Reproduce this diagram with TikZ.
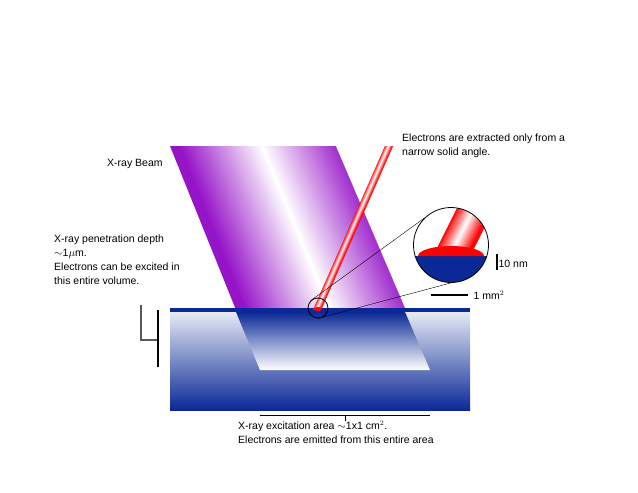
\documentclass[tikz,border=0pt]{standalone}
\usepackage{fontspec}
\setmainfont{Liberation Sans}
\begin{document}
\begin{tikzpicture}[x=1pt,y=-1pt,
  lbl/.style={font=\fontsize{10.5}{14}\selectfont,align=left,inner sep=0pt},
  bar/.style={line width=1.2pt}]
\useasboundingbox (0,0) rectangle (638,493);
\definecolor{vio}{RGB}{150,20,200}
\definecolor{nav}{RGB}{10,40,150}
% purple beam: strips (top x0,w0 at y0; bottom x1,w1 at y1)
\foreach \i in {0,...,59}{
  \pgfmathsetmacro{\ta}{\i/60}\pgfmathsetmacro{\tb}{(\i+1.3)/60}
  \pgfmathsetmacro{\p}{min(100,100*abs(\ta-0.55)/0.5)}
  \fill[vio!\p!white] (170+165*\ta,146) -- (170+165*\tb,146) -- (236+169*\tb,310) -- (236+169*\ta,310) -- cycle;
}
% substrate
\shade[top color=white!90!nav,bottom color=nav] (170,312) rectangle (470,410);
\shade[top color=nav,bottom color=white] (236,312) -- (405,312) -- (430,370) -- (260,370) -- cycle;
\fill[nav] (170,308) rectangle (470,312);
% red rod
\foreach \i in {0,...,19}{
  \pgfmathsetmacro{\ta}{\i/20}\pgfmathsetmacro{\tb}{(\i+1.3)/20}
  \pgfmathsetmacro{\p}{min(100,100*abs(\ta-0.45)/0.45)}
  \fill[red!\p!white] (385+8*\ta,146) -- (385+8*\tb,146) -- (313+8*\tb,310) -- (313+8*\ta,310) -- cycle;
}
\fill[red] (318,309) ellipse (4 and 2);
% magnifier
\node[circle,draw,thick,minimum size=20pt,inner sep=0pt] (sc) at (318,308) {};
\coordinate (c) at (451,245);
\begin{scope}
\clip (c) circle (37.5);
\fill[white] (c) circle (37.5);
\foreach \i in {0,...,39}{
  \pgfmathsetmacro{\ta}{\i/40}\pgfmathsetmacro{\tb}{(\i+1.3)/40}
  \pgfmathsetmacro{\p}{min(100,100*abs(\ta-0.45)/0.45)}
  \fill[red!\p!white] (466+37*\ta,190) -- (466+37*\tb,190) -- (433+37*\tb,256) -- (433+37*\ta,256) -- cycle;
}
\fill[nav] (405,256) rectangle (500,300);
\fill[red] (418,256) -- (484,256) arc (0:-180:33 and 10) -- cycle;
\end{scope}
\node[circle,draw,thick,minimum size=75pt,inner sep=0pt] (bc) at (c) {};
\draw (sc.north west) -- (bc.north west);
\draw (sc.south) -- (bc.south);
% scale bars
\draw[bar] (497,254) -- (497,270) node[lbl,anchor=west,pos=0.6,xshift=1pt] (t10) {10 nm};
\draw[bar] (431,295) -- (468,295) node[lbl,anchor=west,xshift=5pt] (tmm) {1 mm$^2$};
% left bracket
\draw[bar,gray!70!black] (141,305) -- (141,340) -- (158,340);
\draw[bar] (158,310) -- (158,367);
% bottom bar
\draw[thick] (260,415) -- (430,415);
\draw[thick] (345,415) -- (345,421);
% texts
\node[lbl,anchor=west] (t1) at (107,164) {X-ray Beam};
\node[lbl,anchor=north west] (t2) at (402,134) {Electrons are extracted only from a\\narrow solid angle.};
\node[lbl,anchor=north west] (t3) at (54,235) {X-ray penetration depth\\$\sim$1$\mu$m.\\Electrons can be excited in\\this entire volume.};
\node[lbl,anchor=north west] (t4) at (238,421) {X-ray excitation area $\sim$1x1 cm$^2$.\\Electrons are emitted from this entire area};
\end{tikzpicture}
\end{document}
